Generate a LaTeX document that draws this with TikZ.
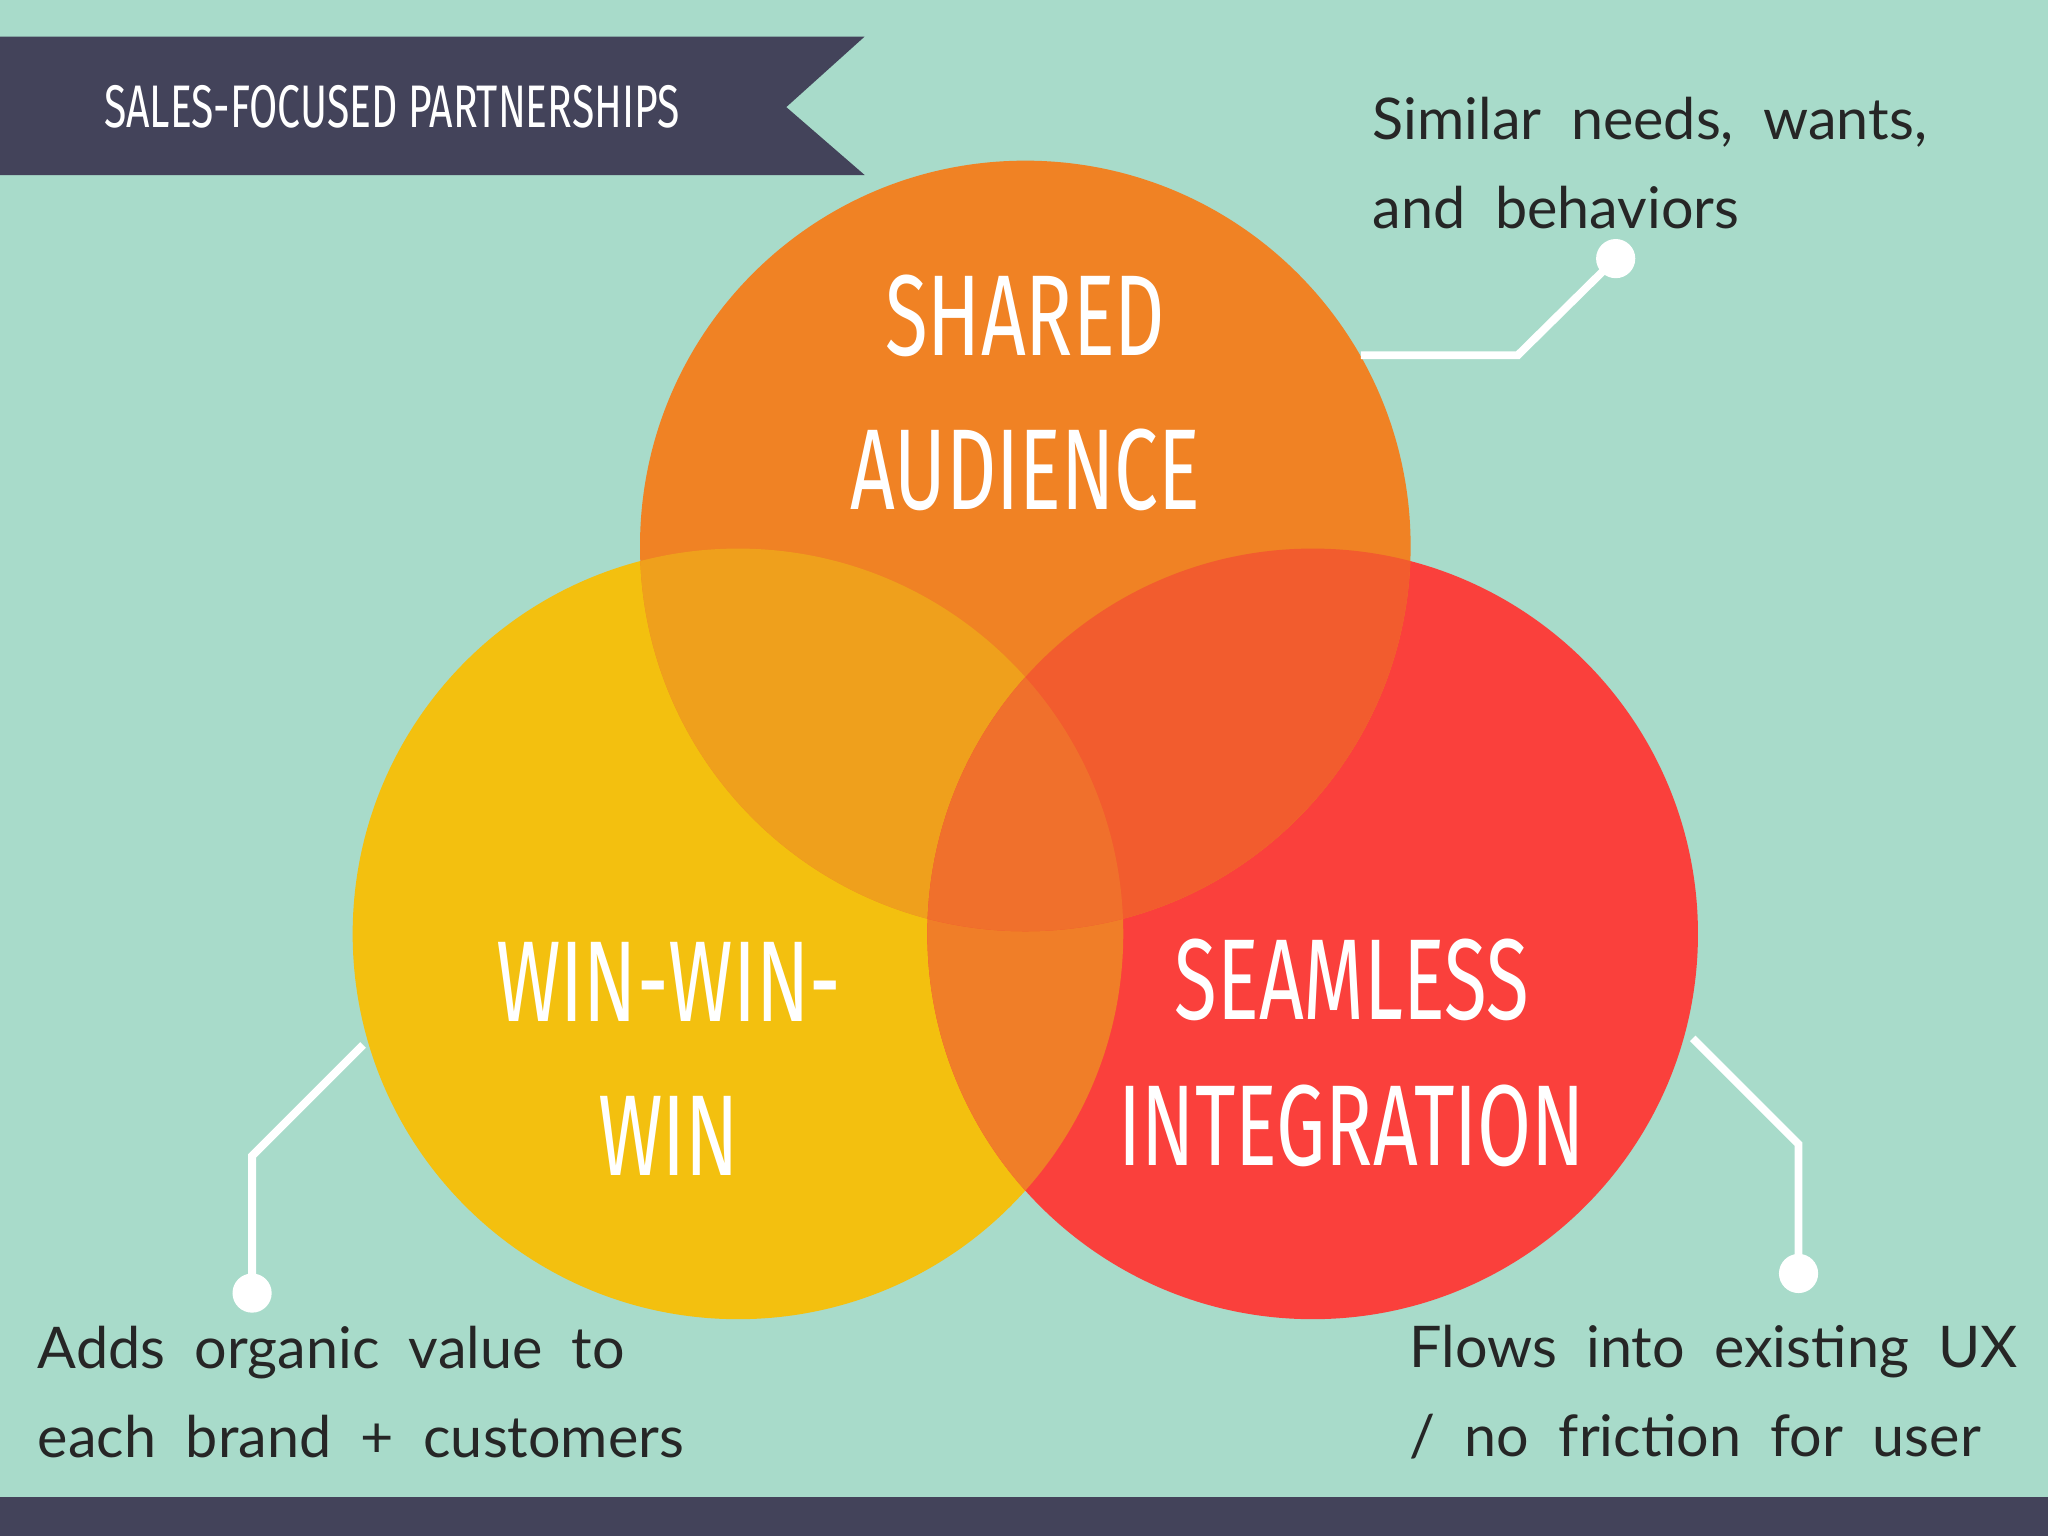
\documentclass[tikz,border=0pt]{standalone}
\usepackage{fontspec}
\setmainfont{Lato}
\newfontfamily\condf[FakeStretch=0.68]{Fira Sans}
\definecolor{bg}{HTML}{A8DBCA}
\definecolor{dark}{HTML}{43435A}
\definecolor{corg}{HTML}{F08224}
\definecolor{cyel}{HTML}{F3C00F}
\definecolor{cred}{HTML}{FA403C}
\definecolor{cyo}{HTML}{EFA01C}
\definecolor{cor}{HTML}{F25C2E}
\definecolor{cyr}{HTML}{F07E28}
\definecolor{call}{HTML}{F0702C}
\tikzset{
 big/.style={text=white,font=\condf\fontsize{44}{50}\selectfont,align=center},
 note/.style={text=black!85,font=\fontsize{22}{34}\selectfont,align=left,anchor=west},
 lead/.style={draw=white,line width=3pt},
 dotc/.style={circle,fill=white,inner sep=0pt,minimum size=15pt}
}
\begin{document}
\begin{tikzpicture}[x=0.5pt,y=-0.5pt]
\fill[bg] (0,0) rectangle (1568,1176);
\useasboundingbox (0,0) rectangle (1568,1176);
\fill[dark] (0,1146) rectangle (1568,1176);
\fill[dark] (0,28) -- (662,28) -- (602,82) -- (662,134) -- (0,134) -- cycle;
\node[text=white,font=\condf\fontsize{23}{26}\selectfont] (title) at (300,82) {SALES-FOCUSED PARTNERSHIPS};
\fill[cyel] (565,715) circle (295);
\fill[cred] (1005,715) circle (295);
\fill[corg] (785,418) circle (295);
\begin{scope}\clip (565,715) circle (295); \fill[cyo] (785,418) circle (295); \fill[cyr] (1005,715) circle (295);
 \clip (1005,715) circle (295); \fill[call] (785,418) circle (295); \end{scope}
\begin{scope}\clip (1005,715) circle (295); \fill[cor] (785,418) circle (295);
 \clip (565,715) circle (295); \fill[call] (785,418) circle (295); \end{scope}
\node[big] (a1) at (785,242) {SHARED};
\node[big] (a2) at (785,360) {AUDIENCE};
\node[big] (b1) at (512,752) {WIN-WIN-};
\node[big] (b2) at (512,870) {WIN};
\node[big] (c1) at (1035,750) {SEAMLESS};
\node[big] (c2) at (1035,862) {INTEGRATION};
\node[note] (n1) at (1044,125) {Similar\ \ needs,\ \ wants,\\and\ \ behaviors};
\node[note] (n2) at (22,1066) {Adds\ \ organic\ \ value\ \ to\\each\ \ brand\ \ +\ \ customers};
\node[note] (n3) at (1072,1066) {Flows\ \ into\ \ existing\ \ UX\\/\ \ no\ \ friction\ \ for\ \ user};
\coordinate (p1) at (1042,272); \coordinate (q1) at (1162,272);
\node[dotc] (d1) at (1237,198) {};
\draw[lead] (p1) -- (q1) -- (d1.center);
\coordinate (p2) at (278,800); \coordinate (q2) at (193,885);
\node[dotc] (d2) at (193,990) {};
\draw[lead] (p2) -- (q2) -- (d2.center);
\coordinate (p3) at (1296,795); \coordinate (q3) at (1377,876);
\node[dotc] (d3) at (1377,975) {};
\draw[lead] (p3) -- (q3) -- (d3.center);
\end{tikzpicture}
\end{document}
